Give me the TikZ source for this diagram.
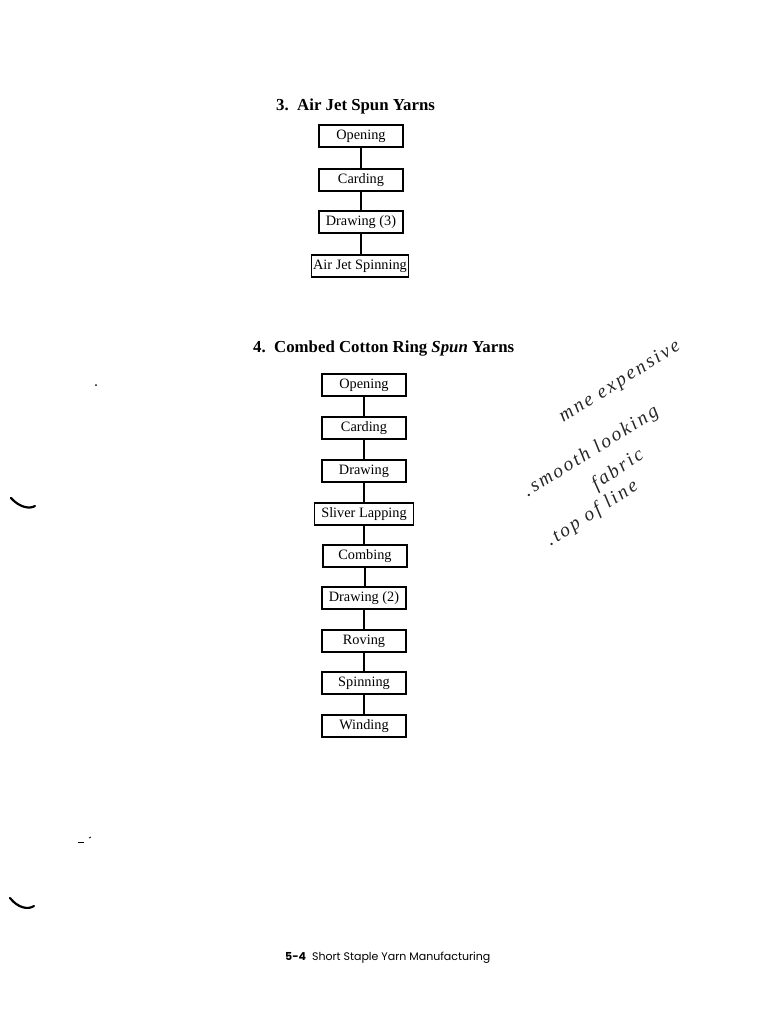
\documentclass[tikz,border=0pt]{standalone}
\usepackage{fontspec}
\setmainfont{Liberation Serif}
\newfontfamily\footfont{Poppins}
\newfontfamily\handfont[LetterSpace=12]{Liberation Serif}
\begin{document}
\begin{tikzpicture}[x=1pt,y=-1pt,
  stepbox/.style={draw=black,line width=1.3pt,minimum height=22pt,inner sep=0pt,font=\fontsize{14.3}{16}\selectfont},
  wbox/.style={stepbox,minimum width=84pt},
  link/.style={draw=black,line width=1.3pt},
  title/.style={font=\fontsize{16.8}{19}\selectfont\bfseries,anchor=west,inner sep=0pt},
  hand/.style={font=\handfont\fontsize{19.5}{20}\selectfont\itshape,text=black!85,inner sep=0pt},
  scanmark/.style={line width=2.2pt,line cap=round}]
\useasboundingbox (0,0) rectangle (768,1024);
% section 3
\node[title] (t3) at (276,106) {3.\ \ Air Jet Spun Yarns};
\node[wbox] (a1) at (361,136) {Opening};
\node[wbox] (a2) at (361,180) {Carding};
\node[wbox] (a3) at (361,222) {Drawing (3)};
\node[stepbox,minimum width=97pt] (a4) at (360,266) {Air Jet Spinning};
\foreach \p/\q in {a1/a2,a2/a3,a3/a4}
  \draw[link] (\p.south) -- (\p.south |- \q.north);
% section 4
\node[title] (t4) at (253,349) {4.\ \ Combed Cotton Ring \textit{Spun} Yarns};
\node[wbox] (b1) at (364,385) {Opening};
\node[wbox] (b2) at (364,428) {Carding};
\node[wbox] (b3) at (364,471) {Drawing};
\node[stepbox,minimum width=99pt] (b4) at (364,514) {Sliver Lapping};
\node[wbox] (b5) at (365,556) {Combing};
\node[wbox] (b6) at (364,598) {Drawing (2)};
\node[wbox] (b7) at (364,641) {Roving};
\node[wbox] (b8) at (364,683) {Spinning};
\node[wbox] (b9) at (364,726) {Winding};
\foreach \p/\q in {b1/b2,b2/b3,b3/b4,b4/b5,b5/b6,b6/b7,b7/b8,b8/b9}
  \draw[link] (\p.south) -- (\p.south |- \q.north);
% handwritten notes
\node[hand,rotate=32] (h1) at (620,382) {mne expensive};
\node[hand,rotate=32] (h2) at (591,452) {{\normalfont.}\,smooth looking};
\node[hand,rotate=34] (h3) at (618,470) {fabric};
\node[hand,rotate=33] (h4) at (592,514) {{\normalfont.}\,top of line};
% scan marks
\draw[scanmark] (11,498) .. controls (20,508) and (30,509) .. (35,506);
\draw[scanmark] (10,898) .. controls (18,908) and (28,910) .. (34,906);
\fill (96,385) circle (1pt);
\draw[line width=0.8pt] (78,842) -- (84,842);
\draw[line width=0.8pt] (89,838) -- (91,837);
% footer
\node[font=\footfont\fontsize{11}{13}\selectfont,anchor=west,inner sep=0pt] (ft) at (285,958) {\textbf{5-4}\ \ Short Staple Yarn Manufacturing};
\end{tikzpicture}
\end{document}
